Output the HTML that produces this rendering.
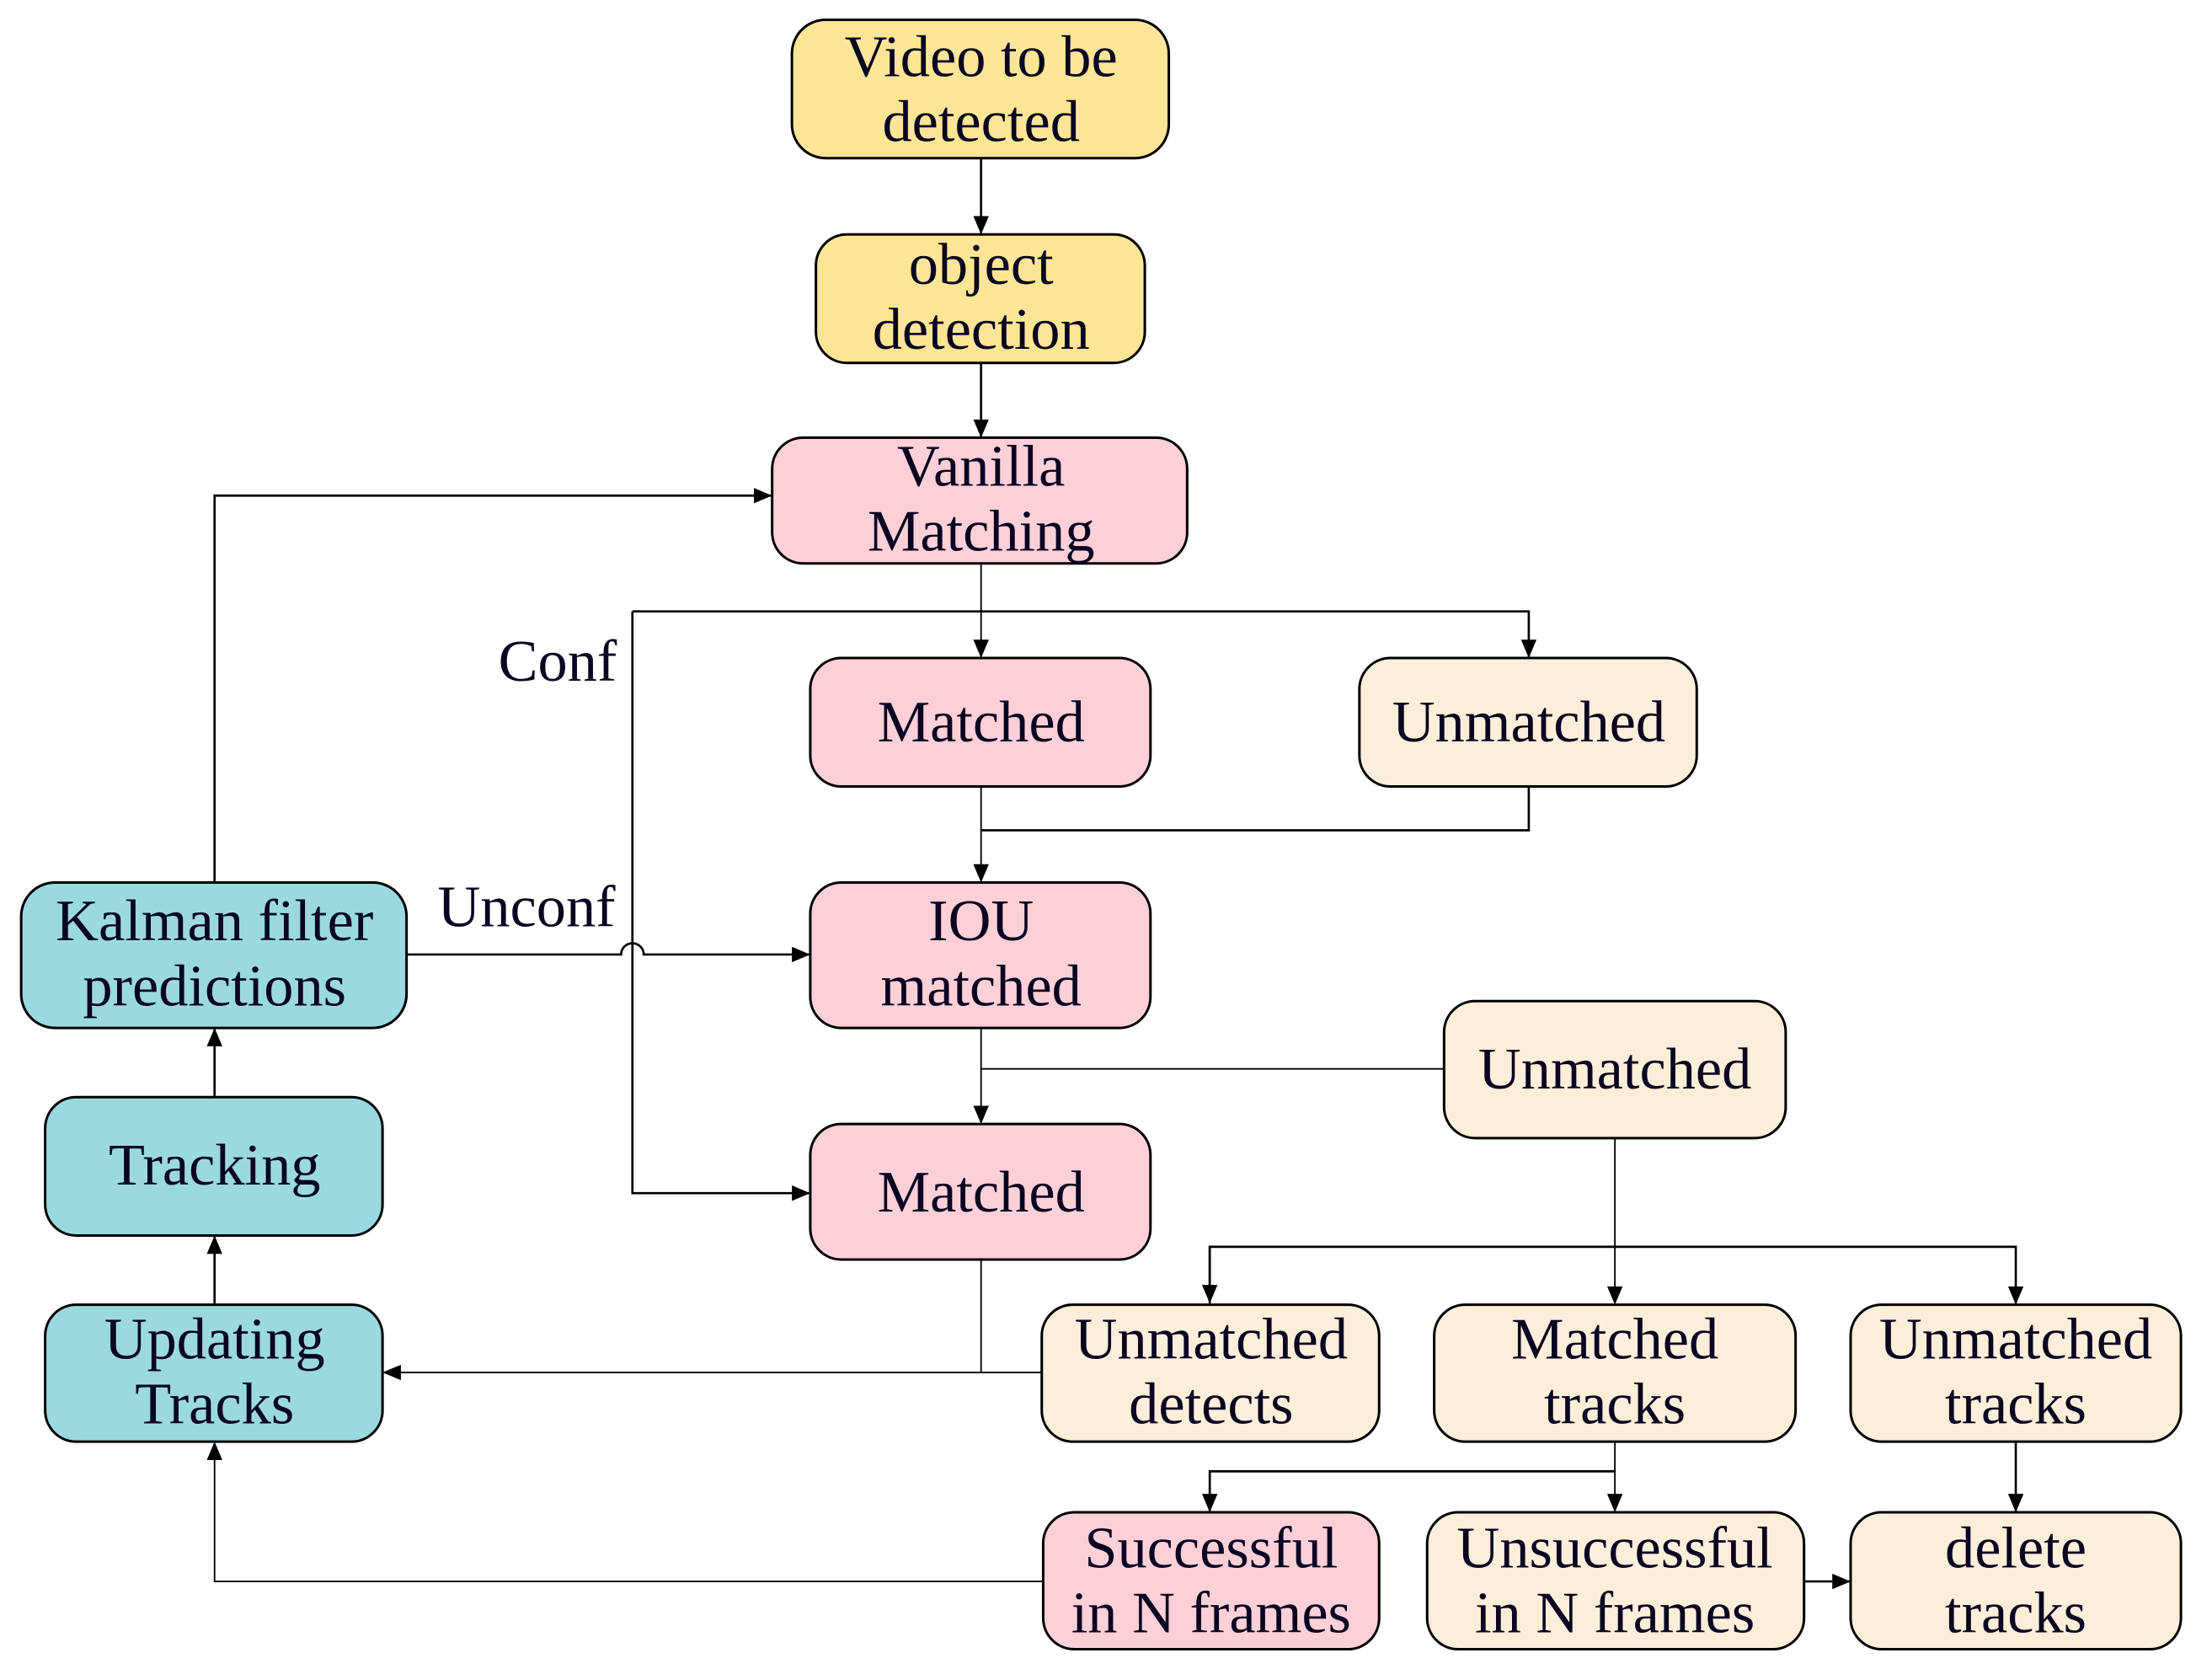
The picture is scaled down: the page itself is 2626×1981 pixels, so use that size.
<!DOCTYPE html>
<html><head><meta charset="utf-8"><style>
html,body{margin:0;padding:0;background:#fff;}
svg{display:block;}
text{font-family:"Liberation Serif",serif;font-size:42px;fill:#0a0520;text-anchor:middle;}
</style></head><body>
<svg width="2626" height="1981" viewBox="0 0 1567 1182" preserveAspectRatio="none" xmlns="http://www.w3.org/2000/svg">
<defs>
<marker id="a" markerWidth="13" markerHeight="13" refX="12" refY="6.5" orient="auto" markerUnits="userSpaceOnUse">
<path d="M0,1 L13,6.5 L0,12 Z" fill="#000"/></marker>
</defs>
<g fill="none" stroke="#000" stroke-width="1.6">
<line x1="695" y1="112" x2="695" y2="165" marker-end="url(#a)"/>
<line x1="695" y1="257" x2="695" y2="309" marker-end="url(#a)"/>
<polyline points="152,625 152,351 546,351" marker-end="url(#a)"/>
<line x1="695" y1="399" x2="695" y2="465" stroke-width="1.1" marker-end="url(#a)"/>
<polyline points="448,433 1083,433 1083,465" marker-end="url(#a)"/>
<polyline points="448,433 448,845 573,845" marker-end="url(#a)"/>
<line x1="695" y1="557" x2="695" y2="624" stroke-width="1.1" marker-end="url(#a)"/>
<polyline points="1083,557 1083,588 695,588"/>
<path d="M288,676 L440,676 A8,8 0 0 1 456,676 L573,676" marker-end="url(#a)"/>
<line x1="695" y1="728" x2="695" y2="795" stroke-width="1.1" marker-end="url(#a)"/>
<line x1="1023" y1="757" x2="695" y2="757" stroke-width="1.1"/>
<line x1="1144" y1="806" x2="1144" y2="923" stroke-width="1.1" marker-end="url(#a)"/>
<polyline points="857,923 857,883 1428,883 1428,923" marker-end="url(#a)"/>
<path d="M857,883 L857,922" marker-end="url(#a)"/>
<line x1="695" y1="892" x2="695" y2="972" stroke-width="1.1"/>
<line x1="738" y1="972" x2="272" y2="972" stroke-width="1.1" marker-end="url(#a)"/>
<line x1="152" y1="924" x2="152" y2="876" marker-end="url(#a)"/>
<line x1="152" y1="777" x2="152" y2="729" marker-end="url(#a)"/>
<line x1="1144" y1="1021" x2="1144" y2="1070" stroke-width="1.1" marker-end="url(#a)"/>
<polyline points="1144,1042 857,1042 857,1070" marker-end="url(#a)"/>
<line x1="1428" y1="1021" x2="1428" y2="1070" marker-end="url(#a)"/>
<line x1="1278" y1="1120" x2="1310" y2="1120" marker-end="url(#a)"/>
<polyline points="739,1120 152,1120 152,1022" stroke-width="1.1" marker-end="url(#a)"/>
</g>
<g stroke="#000" stroke-width="1.8">
<rect x="561" y="14" width="267" height="98" rx="24" fill="#fde597"/>
<rect x="578" y="166" width="233" height="91" rx="22" fill="#fde597"/>
<rect x="547" y="310" width="294" height="89" rx="22" fill="#fdd0d8"/>
<rect x="574" y="466" width="241" height="91" rx="22" fill="#fdd0d8"/>
<rect x="963" y="466" width="239" height="91" rx="22" fill="#fdeeda"/>
<rect x="574" y="625" width="241" height="103" rx="22" fill="#fdd0d8"/>
<rect x="1023" y="709" width="242" height="97" rx="22" fill="#fdeeda"/>
<rect x="574" y="796" width="241" height="96" rx="22" fill="#fdd0d8"/>
<rect x="15" y="625" width="273" height="103" rx="24" fill="#9bd9e0"/>
<rect x="32" y="777" width="239" height="98" rx="22" fill="#9bd9e0"/>
<rect x="32" y="924" width="239" height="97" rx="22" fill="#9bd9e0"/>
<rect x="738" y="924" width="239" height="97" rx="22" fill="#fdeeda"/>
<rect x="1016" y="924" width="256" height="97" rx="22" fill="#fdeeda"/>
<rect x="1311" y="924" width="234" height="97" rx="22" fill="#fdeeda"/>
<rect x="739" y="1071" width="238" height="97" rx="22" fill="#fdd0d8"/>
<rect x="1011" y="1071" width="267" height="97" rx="22" fill="#fdeeda"/>
<rect x="1311" y="1071" width="234" height="97" rx="22" fill="#fdeeda"/>
</g>
<text x="695" y="54">Video to be</text><text x="695" y="100">detected</text>
<text x="695" y="201">object</text><text x="695" y="247">detection</text>
<text x="695" y="344">Vanilla</text><text x="695" y="390">Matching</text>
<text x="695" y="525">Matched</text>
<text x="1083" y="525">Unmatched</text>
<text x="695" y="666">IOU</text><text x="695" y="712">matched</text>
<text x="1144" y="771">Unmatched</text>
<text x="695" y="858">Matched</text>
<text x="152" y="666">Kalman filter</text><text x="152" y="712">predictions</text>
<text x="152" y="839">Tracking</text>
<text x="152" y="962">Updating</text><text x="152" y="1008">Tracks</text>
<text x="858" y="962">Unmatched</text><text x="858" y="1008">detects</text>
<text x="1144" y="962">Matched</text><text x="1144" y="1008">tracks</text>
<text x="1428" y="962">Unmatched</text><text x="1428" y="1008">tracks</text>
<text x="858" y="1110">Successful</text><text x="858" y="1156">in N frames</text>
<text x="1144" y="1110">Unsuccessful</text><text x="1144" y="1156">in N frames</text>
<text x="1428" y="1110">delete</text><text x="1428" y="1156">tracks</text>
<text x="395" y="482">Conf</text>
<text x="373" y="656">Unconf</text>
</svg>
</body></html>
